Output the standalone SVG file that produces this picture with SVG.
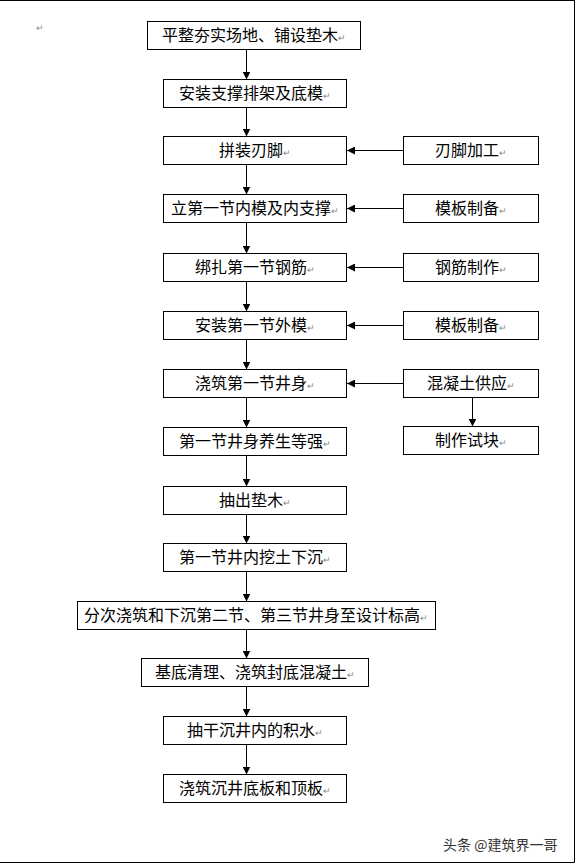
<svg xmlns="http://www.w3.org/2000/svg" width="579" height="865" viewBox="0 0 579 865">
<style>
.box{fill:#fff;stroke:#000;stroke-width:1}
.t{font-family:"Noto Sans CJK SC","Liberation Sans",sans-serif;font-size:16px;fill:#000;text-anchor:middle}
.r{font-size:9px;fill:#888}
.ln{stroke:#000;stroke-width:1;fill:none}
.wm{font-family:"Noto Sans CJK SC","Liberation Sans",sans-serif;font-size:14px;fill:#333;stroke:#fff;stroke-width:2;paint-order:stroke}
</style>
<defs>
<marker id="ah" viewBox="0 0 10 10" refX="10" refY="5" markerWidth="8" markerHeight="8" markerUnits="userSpaceOnUse" orient="auto">
<path d="M0,0 L10,5 L0,10 z" fill="#000"/>
</marker>
</defs>
<rect width="579" height="865" fill="#fff"/>
<g id="page">
<line x1="0" y1="0.5" x2="574.5" y2="0.5" class="ln"/>
<line x1="574.5" y1="0" x2="574.5" y2="862.5" class="ln"/>
<line x1="0" y1="862.5" x2="574.5" y2="862.5" class="ln" stroke-width="2"/>
<text x="40" y="31" class="t r">↵</text>
</g>
<g id="connectors">
<line x1="246.5" y1="49.5" x2="246.5" y2="79.5" class="ln" marker-end="url(#ah)"/>
<line x1="246.5" y1="107.5" x2="246.5" y2="136.5" class="ln" marker-end="url(#ah)"/>
<line x1="246.5" y1="164.5" x2="246.5" y2="194.5" class="ln" marker-end="url(#ah)"/>
<line x1="246.5" y1="222.5" x2="246.5" y2="253.5" class="ln" marker-end="url(#ah)"/>
<line x1="246.5" y1="281.5" x2="246.5" y2="311.5" class="ln" marker-end="url(#ah)"/>
<line x1="246.5" y1="339.5" x2="246.5" y2="369.5" class="ln" marker-end="url(#ah)"/>
<line x1="246.5" y1="397.5" x2="246.5" y2="427.5" class="ln" marker-end="url(#ah)"/>
<line x1="246.5" y1="455.5" x2="246.5" y2="486.5" class="ln" marker-end="url(#ah)"/>
<line x1="246.5" y1="514.5" x2="246.5" y2="543.5" class="ln" marker-end="url(#ah)"/>
<line x1="246.5" y1="571.5" x2="246.5" y2="601.5" class="ln" marker-end="url(#ah)"/>
<line x1="246.5" y1="629.5" x2="246.5" y2="658.5" class="ln" marker-end="url(#ah)"/>
<line x1="246.5" y1="686.5" x2="246.5" y2="716.5" class="ln" marker-end="url(#ah)"/>
<line x1="246.5" y1="744.5" x2="246.5" y2="774.5" class="ln" marker-end="url(#ah)"/>
<line x1="403.5" y1="150.5" x2="347" y2="150.5" class="ln" marker-end="url(#ah)"/>
<line x1="403.5" y1="208.5" x2="347" y2="208.5" class="ln" marker-end="url(#ah)"/>
<line x1="403.5" y1="267.5" x2="347" y2="267.5" class="ln" marker-end="url(#ah)"/>
<line x1="403.5" y1="325.5" x2="347" y2="325.5" class="ln" marker-end="url(#ah)"/>
<line x1="403.5" y1="383.5" x2="347" y2="383.5" class="ln" marker-end="url(#ah)"/>
<line x1="472.5" y1="397.5" x2="472.5" y2="426.5" class="ln" marker-end="url(#ah)"/>
</g>
<g id="n1"><rect class="box" x="147.5" y="21.5" width="213" height="28"/><text class="t" x="254" y="41">平整夯实场地、铺设垫木<tspan class="r">↵</tspan></text></g>
<g id="n2"><rect class="box" x="163.5" y="79.5" width="183" height="28"/><text class="t" x="255" y="99">安装支撑排架及底模<tspan class="r">↵</tspan></text></g>
<g id="n3"><rect class="box" x="163.5" y="136.5" width="183" height="28"/><text class="t" x="255" y="156">拼装刃脚<tspan class="r">↵</tspan></text></g>
<g id="n4"><rect class="box" x="163.5" y="194.5" width="183" height="28"/><text class="t" x="255" y="214">立第一节内模及内支撑<tspan class="r">↵</tspan></text></g>
<g id="n5"><rect class="box" x="163.5" y="253.5" width="183" height="28"/><text class="t" x="255" y="273">绑扎第一节钢筋<tspan class="r">↵</tspan></text></g>
<g id="n6"><rect class="box" x="163.5" y="311.5" width="183" height="28"/><text class="t" x="255" y="331">安装第一节外模<tspan class="r">↵</tspan></text></g>
<g id="n7"><rect class="box" x="163.5" y="369.5" width="183" height="28"/><text class="t" x="255" y="389">浇筑第一节井身<tspan class="r">↵</tspan></text></g>
<g id="n8"><rect class="box" x="163.5" y="427.5" width="183" height="28"/><text class="t" x="255" y="447">第一节井身养生等强<tspan class="r">↵</tspan></text></g>
<g id="n9"><rect class="box" x="163.5" y="486.5" width="183" height="28"/><text class="t" x="255" y="506">抽出垫木<tspan class="r">↵</tspan></text></g>
<g id="n10"><rect class="box" x="163.5" y="543.5" width="183" height="28"/><text class="t" x="255" y="563">第一节井内挖土下沉<tspan class="r">↵</tspan></text></g>
<g id="n11"><rect class="box" x="77.5" y="601.5" width="358" height="28"/><text class="t" x="256" y="621">分次浇筑和下沉第二节、第三节井身至设计标高<tspan class="r">↵</tspan></text></g>
<g id="n12"><rect class="box" x="141.5" y="658.5" width="227" height="28"/><text class="t" x="255" y="678">基底清理、浇筑封底混凝土<tspan class="r">↵</tspan></text></g>
<g id="n13"><rect class="box" x="163.5" y="716.5" width="183" height="28"/><text class="t" x="255" y="736">抽干沉井内的积水<tspan class="r">↵</tspan></text></g>
<g id="n14"><rect class="box" x="163.5" y="774.5" width="183" height="28"/><text class="t" x="255" y="794">浇筑沉井底板和顶板<tspan class="r">↵</tspan></text></g>
<g id="s1"><rect class="box" x="403.5" y="136.5" width="135" height="28"/><text class="t" x="471" y="156">刃脚加工<tspan class="r">↵</tspan></text></g>
<g id="s2"><rect class="box" x="403.5" y="194.5" width="135" height="28"/><text class="t" x="471" y="214">模板制备<tspan class="r">↵</tspan></text></g>
<g id="s3"><rect class="box" x="403.5" y="253.5" width="135" height="28"/><text class="t" x="471" y="273">钢筋制作<tspan class="r">↵</tspan></text></g>
<g id="s4"><rect class="box" x="403.5" y="311.5" width="135" height="28"/><text class="t" x="471" y="331">模板制备<tspan class="r">↵</tspan></text></g>
<g id="s5"><rect class="box" x="403.5" y="369.5" width="135" height="28"/><text class="t" x="471" y="389">混凝土供应<tspan class="r">↵</tspan></text></g>
<g id="s6"><rect class="box" x="403.5" y="426.5" width="135" height="28"/><text class="t" x="471" y="446">制作试块<tspan class="r">↵</tspan></text></g>
<g id="watermark"><text class="wm" x="443" y="850">头条 @建筑界一哥</text></g>
</svg>
